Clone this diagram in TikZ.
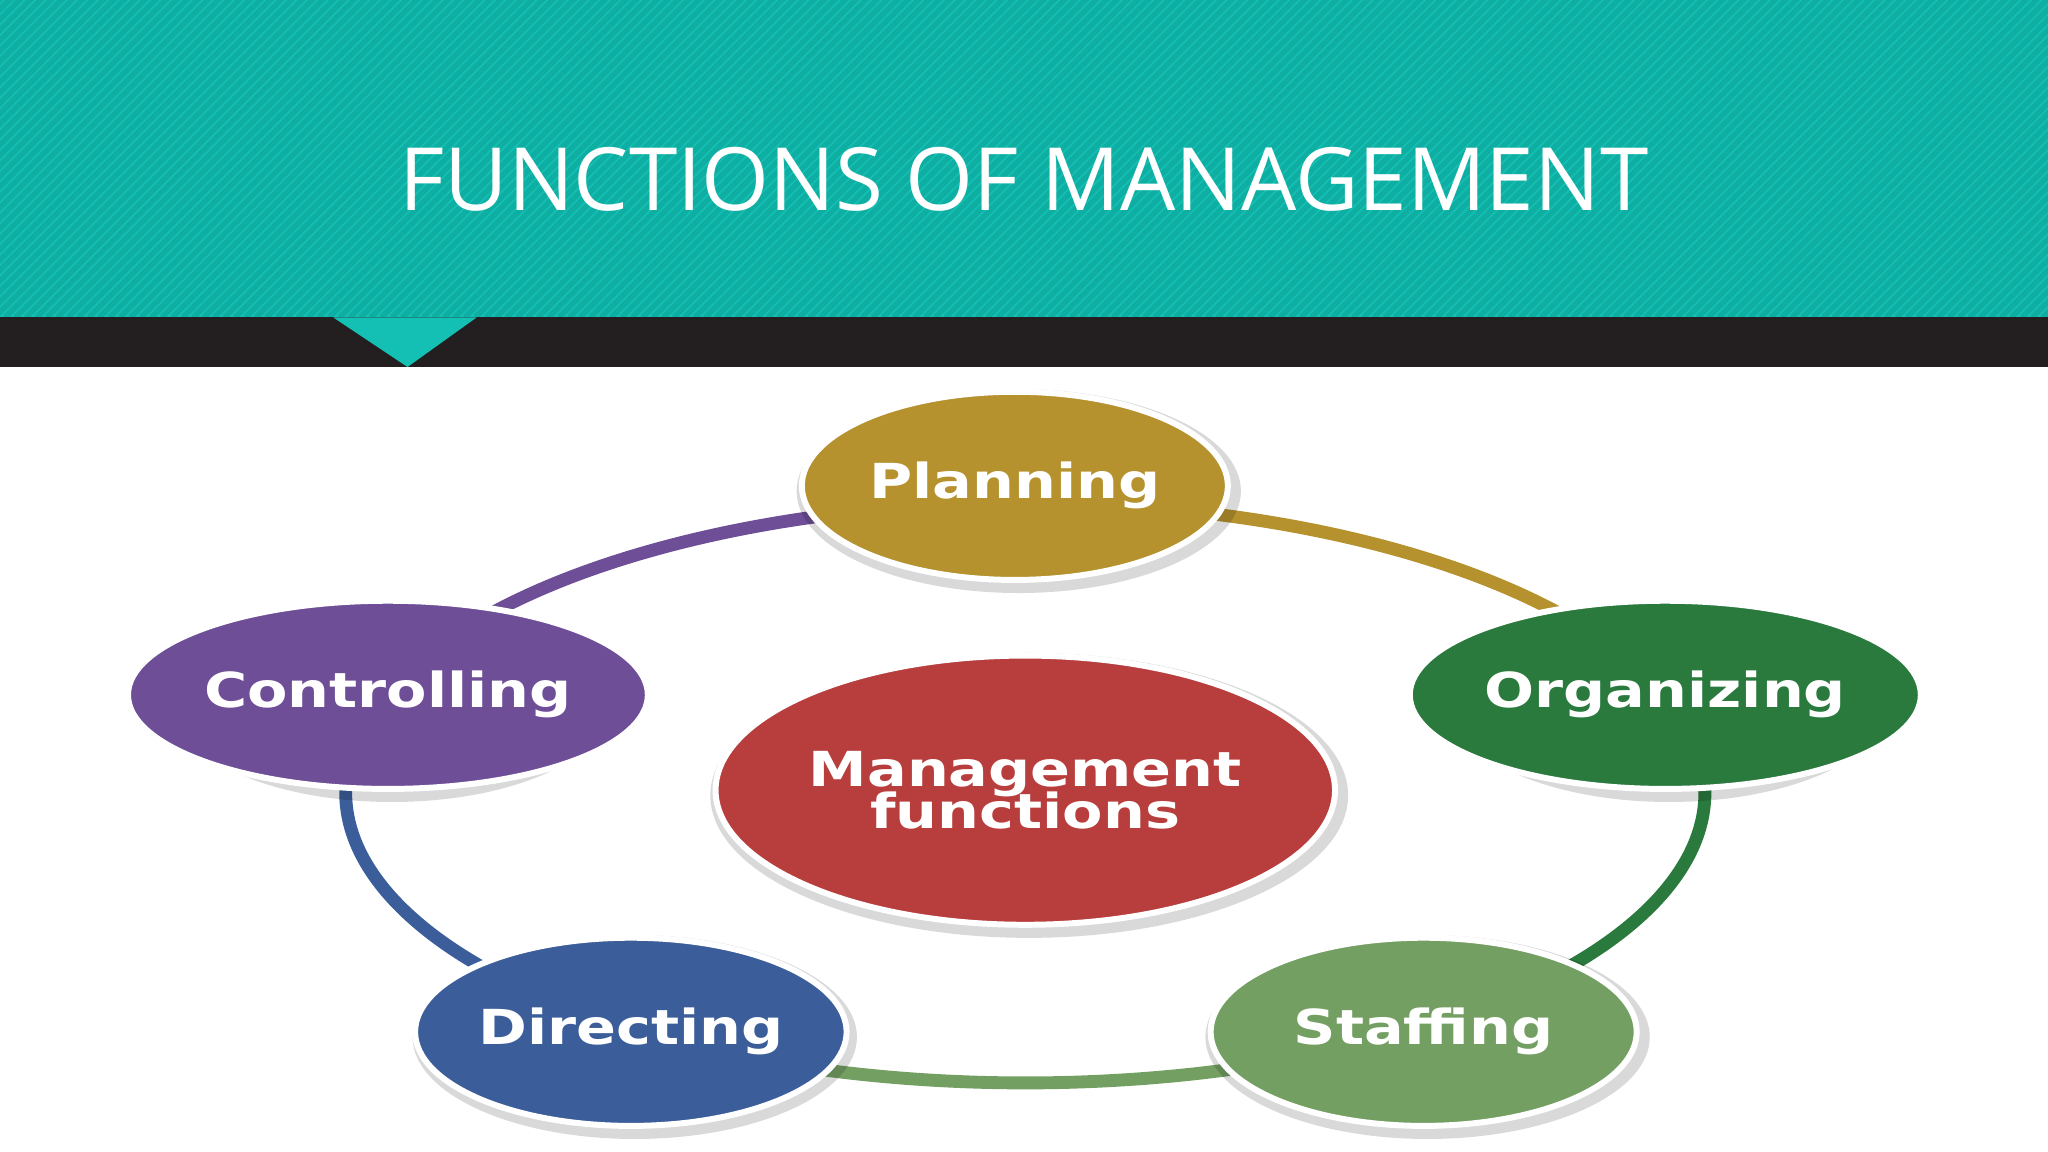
\documentclass[tikz,border=0pt]{standalone}
\usepackage{fontspec}
\setmainfont{Open Sans}
\newfontfamily\lab[FakeStretch=1.22]{DejaVu Sans}
\usetikzlibrary{shapes.geometric}
\definecolor{teal1}{HTML}{14C0B4}
\definecolor{teal2}{HTML}{0FAEA3}
\definecolor{band}{HTML}{231F20}
\definecolor{cplan}{HTML}{B5922E}
\definecolor{corg}{HTML}{2A7A3E}
\definecolor{cstaff}{HTML}{749F63}
\definecolor{cdir}{HTML}{3B5E9A}
\definecolor{cctrl}{HTML}{6E4E97}
\definecolor{cmgmt}{HTML}{B83E3D}
\tikzset{
 fn/.style={ellipse, inner sep=0pt, minimum width=3.26cm, minimum height=1.44cm, draw=white, line width=1.3pt, text=white, font=\lab\bfseries\fontsize{10.5}{12}\selectfont, align=center},
 shad/.style={fill=black, opacity=0.15},
 seg/.style={line width=2.8pt}
}
\begin{document}
\begin{tikzpicture}[x=0.01cm,y=0.01cm]
\useasboundingbox (0,0) rectangle (1568,882);
\fill[white] (0,0) rectangle (1568,882);
% header
\fill[teal1] (0,639) rectangle (1568,882);
\begin{scope}
\clip (0,639) rectangle (1568,882);
\foreach \i in {-300,-292,...,1600} {\draw[teal2, line width=1.2pt] (\i,639) -- ++(260,260);}
\end{scope}
\fill[band] (0,601) rectangle (1568,639);
\fill[teal1] (255,639) -- (365,639) -- (312,601) -- cycle;
\node[text=white, font=\fontsize{19}{22}\selectfont] (title) at (784,745) {FUNCTIONS OF MANAGEMENT};
% ring
\coordinate (rc) at (785,275);
\draw[seg, cplan]  ([shift={(90:5.2cm and 2.22cm)}]rc) arc[start angle=90, end angle=20, x radius=5.2cm, y radius=2.22cm];
\draw[seg, corg]   ([shift={(20:5.2cm and 2.22cm)}]rc) arc[start angle=20, end angle=-54, x radius=5.2cm, y radius=2.22cm];
\draw[seg, cstaff] ([shift={(-54:5.2cm and 2.22cm)}]rc) arc[start angle=-54, end angle=-126, x radius=5.2cm, y radius=2.22cm];
\draw[seg, cdir]   ([shift={(-126:5.2cm and 2.22cm)}]rc) arc[start angle=-126, end angle=-200, x radius=5.2cm, y radius=2.22cm];
\draw[seg, cctrl]  ([shift={(160:5.2cm and 2.22cm)}]rc) arc[start angle=160, end angle=90, x radius=5.2cm, y radius=2.22cm];
% shadows
\foreach \x/\y/\a/\b in {777/510/1.70/0.78, 1275/350/1.70/0.78, 1090/92/1.70/0.78, 483/92/1.70/0.78, 297/350/1.70/0.78, 785/277/2.44/1.09}
 {\fill[shad] (\x+3,\y-4) ellipse [x radius=\a cm, y radius=\b cm];}
% nodes
\node[fn, fill=cplan] (plan) at (777,510) {Planning};
\node[fn, fill=corg] (org) at (1275,350) {Organizing};
\node[fn, fill=cstaff] (staff) at (1090,92) {Staffing};
\node[fn, fill=cdir] (dir) at (483,92) {Directing};
\node[fn, fill=cctrl] (ctrl) at (297,350) {Controlling};
\node[fn, fill=cmgmt, minimum width=4.74cm, minimum height=2.06cm] (mgmt) at (785,277) {Management\\[-3pt]functions};
\end{tikzpicture}
\end{document}
